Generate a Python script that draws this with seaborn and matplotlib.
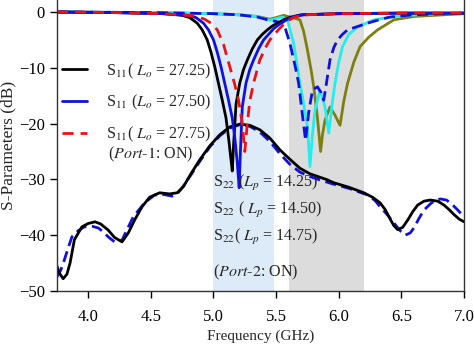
import numpy as np
import pandas as pd
import matplotlib
matplotlib.use("Agg")
import matplotlib.pyplot as plt
import seaborn as sns

# ---- data (frequency in GHz, level in dB) ----
f_s11_a = [3.75, 4.2, 4.6, 4.75, 4.81, 4.87, 4.91, 4.95, 4.98, 5.01, 5.04, 5.07, 5.1, 5.12, 5.14, 5.15,
           5.16, 5.18, 5.21, 5.24, 5.27, 5.31, 5.35, 5.39, 5.43, 5.47, 5.51, 5.56, 5.62, 5.7, 6.0, 6.5, 7.0]
s11_a = [0, -0.1, -0.3, -0.6, -1.0, -2.0, -3.2, -5.0, -7.2, -9.8, -12.8, -15.8, -19.0, -22.5, -26.5, -28.5,
         -24, -16.5, -12.7, -10.3, -8.6, -6.6, -5.0, -4.0, -3.2, -2.5, -2.0, -1.4, -0.9, -0.5, -0.3, -0.2, -0.2]

f_s11_b = [3.75, 4.2, 4.6, 4.8, 4.86, 4.92, 4.96, 5.0, 5.03, 5.06, 5.09, 5.12, 5.15, 5.17, 5.19, 5.205,
           5.215, 5.23, 5.26, 5.29, 5.32, 5.36, 5.4, 5.44, 5.48, 5.52, 5.56, 5.6, 5.65, 5.72, 6.0, 6.5, 7.0]
s11_b = [0, -0.1, -0.3, -0.6, -1.0, -2.0, -3.2, -5.0, -7.2, -9.8, -12.8, -15.8, -19.0, -22.5, -27, -31.5,
         -25, -17, -12.7, -10.3, -8.6, -6.6, -5.0, -4.0, -3.0, -2.3, -1.7, -1.2, -0.8, -0.5, -0.3, -0.2, -0.2]

f_s11_c = [3.75, 4.2, 4.6, 4.85, 4.93, 4.98, 5.03, 5.08, 5.13, 5.17, 5.2, 5.23, 5.25, 5.27, 5.29, 5.32,
           5.37, 5.41, 5.45, 5.49, 5.53, 5.59, 5.65, 5.75, 6.0, 6.5, 7.0]
s11_c = [0, -0.1, -0.3, -0.7, -1.3, -2.0, -3.2, -5.8, -9.8, -13, -15.8, -20, -25, -20, -16, -12.7,
         -8.6, -6.6, -5.0, -3.9, -2.9, -1.6, -0.9, -0.5, -0.3, -0.2, -0.2]

f_s22_a = [3.75, 4.5, 5.0, 5.2, 5.35, 5.45, 5.5, 5.56, 5.61, 5.65, 5.68, 5.71, 5.735, 5.76, 5.79, 5.83,
           5.86, 5.88, 5.9, 5.93, 5.96, 5.99, 6.03, 6.07, 6.15, 6.23, 6.32, 6.41, 6.6, 7.0]
s22_a = [0, -0.1, -0.3, -0.5, -0.9, -1.5, -1.7, -2.0, -5.6, -9.5, -12.8, -18.5, -23, -18, -14, -13.4,
         -14.5, -15.8, -13, -8.6, -6.4, -5.0, -4.0, -3.2, -2.6, -2.0, -1.4, -0.9, -0.5, -0.2]

f_s22_b = [3.75, 4.5, 5.0, 5.2, 5.35, 5.45, 5.5, 5.55, 5.59, 5.64, 5.69, 5.72, 5.75, 5.77, 5.79, 5.81,
           5.85, 5.87, 5.89, 5.92, 5.95, 5.97, 6.0, 6.03, 6.08, 6.15, 6.28, 6.45, 6.7, 7.0]
s22_b = [0, -0.1, -0.3, -0.5, -0.8, -1.5, -1.2, -0.9, -1.4, -5.6, -12.8, -16.5, -20.5, -27.7, -22, -17.6,
         -14, -15.5, -17, -21.7, -16, -12.8, -9, -6.2, -4, -2.7, -1.4, -0.8, -0.4, -0.2]

f_s22_c = [3.75, 4.5, 5.0, 5.2, 5.35, 5.45, 5.5, 5.56, 5.61, 5.66, 5.69, 5.72, 5.75, 5.78, 5.8, 5.83,
           5.855, 5.87, 5.89, 5.93, 5.97, 6.01, 6.04, 6.07, 6.12, 6.17, 6.24, 6.31, 6.44, 6.6, 7.0]
s22_c = [0, -0.1, -0.3, -0.5, -0.8, -1.3, -1.0, -0.6, -0.9, -1.2, -1.4, -3.5, -6.8, -10.5, -13.4, -19,
         -25, -22, -19.4, -17, -18.5, -20.3, -16, -12.8, -9, -6.2, -4.5, -3.2, -1.4, -0.8, -0.3]

f_low_k = [3.75, 3.77, 3.8, 3.83, 3.855, 3.89, 3.95, 4.0, 4.055, 4.1, 4.16, 4.21, 4.27, 4.32, 4.37, 4.43,
           4.49, 4.57, 4.65, 4.71, 4.76, 4.82, 4.89, 4.97, 5.05, 5.13, 5.21, 5.29, 5.37, 5.45, 5.53, 5.61,
           5.69, 5.77, 5.9, 5.96, 6.08, 6.2, 6.27, 6.33, 6.37, 6.41, 6.44, 6.47, 6.51, 6.55, 6.59, 6.63,
           6.68, 6.73, 6.79, 6.84, 6.88, 6.92, 6.96, 7.0]
low_k = [-45.5, -46.8, -47.8, -47.0, -45.0, -40.8, -38.5, -37.9, -37.6, -38.0, -39.1, -40.4, -41.2, -39.6,
         -37.3, -34.9, -33.2, -32.4, -32.6, -32.4, -31.3, -29.0, -26.5, -24.0, -22.0, -20.6, -20.1, -20.3,
         -21.1, -22.6, -24.7, -26.4, -28.0, -29.0, -30.0, -30.6, -31.4, -32.4, -33.2, -34.2, -35.4, -37.1,
         -38.3, -39.0, -38.6, -37.3, -35.8, -34.6, -33.9, -33.7, -33.9, -34.6, -35.4, -36.3, -37.1, -37.6]

f_low_b = [3.75, 3.78, 3.81, 3.84, 3.87, 3.92, 3.97, 4.03, 4.08, 4.12, 4.16, 4.21, 4.27, 4.31, 4.36, 4.45,
           4.53, 4.6, 4.67, 4.71, 4.75, 4.82, 4.89, 4.97, 5.05, 5.13, 5.21, 5.29, 5.37, 5.45, 5.53, 5.61,
           5.69, 5.77, 5.85, 5.95, 6.08, 6.23, 6.29, 6.33, 6.39, 6.44, 6.49, 6.53, 6.57, 6.6, 6.64, 6.68,
           6.74, 6.81, 6.86, 6.91, 6.95, 7.0]
low_b = [-47.5, -46.3, -44.4, -42.3, -40.3, -39.2, -38.5, -38.4, -38.7, -39.4, -40.3, -41.2, -40.9, -39.0,
         -36.7, -34.2, -32.8, -32.7, -33.0, -32.6, -31.5, -29.2, -26.8, -24.2, -22.2, -20.8, -20.2, -20.5,
         -21.5, -23.2, -25.4, -27.3, -28.7, -29.5, -30.1, -30.8, -31.6, -32.8, -33.8, -34.9, -36.4, -37.8,
         -39.2, -40.0, -39.6, -38.7, -37.0, -35.5, -34.2, -33.5, -33.7, -34.6, -35.5, -36.7]

s11_labels = [r"S$_{11}$( $L_o$ = 27.25)", r"S$_{11}$ ($L_o$ = 27.50)", r"S$_{11}$( $L_o$ = 27.75)"]
s22_labels = [r"S$_{22}$ ($L_p$ = 14.25)", r"S$_{22}$ ( $L_p$ = 14.50)", r"S$_{22}$( $L_p$ = 14.75)"]

# ---- style ----
sns.set_theme(style="ticks")
plt.rcParams["font.family"] = ["Liberation Serif", "DejaVu Serif"]
plt.rcParams["mathtext.fontset"] = "stix"

fig = plt.figure(figsize=(4.74, 3.56), dpi=100)
ax = fig.add_axes([0.120, 0.1826, 0.859, 0.8174])

ax.axvspan(5.0, 5.48, color="#ddeaf8", lw=0, zorder=0)
ax.axvspan(5.6, 6.2, color="#dcdcdc", lw=0, zorder=0)

lw = 2.0
sns.lineplot(x=f_low_b, y=low_b, ax=ax, color="#1010e0", lw=lw, linestyle=(0, (4, 2)))
sns.lineplot(x=f_low_k, y=low_k, ax=ax, color="black", lw=lw)

sns.lineplot(x=f_s22_c, y=s22_c, ax=ax, color="#7f7f10", lw=lw)
sns.lineplot(x=f_s22_b, y=s22_b, ax=ax, color="#22eeee", lw=lw)
sns.lineplot(x=f_s22_a, y=s22_a, ax=ax, color="#1010e0", lw=lw, linestyle=(0, (4, 2)))

h1 = sns.lineplot(x=f_s11_a, y=s11_a, ax=ax, color="black", lw=lw).lines[-1]
h2 = sns.lineplot(x=f_s11_b, y=s11_b, ax=ax, color="#1010e0", lw=lw).lines[-1]
h3 = sns.lineplot(x=f_s11_c, y=s11_c, ax=ax, color="#ee1111", lw=lw, linestyle=(0, (4, 2.5))).lines[-1]

leg = ax.legend([h1, h2, h3], s11_labels, loc="upper left", bbox_to_anchor=(0.0, 0.808),
                frameon=False, fontsize=11.5, handlelength=1.55, handletextpad=1.2,
                labelspacing=0.78, borderaxespad=0.0, borderpad=0.35)
ax.text(4.155, -25.6, r"($\mathit{Port}$-$\mathit{1}$: ON)", fontsize=11.5, va="center", ha="left")

ys = [-30.6, -35.5, -40.3]
for lab, yv in zip(s22_labels, ys):
    ax.text(4.998, yv, lab, fontsize=11.5, va="center", ha="left")
ax.text(5.0, -46.6, r"($\mathit{Port}$-$\mathit{2}$: ON)", fontsize=11.5, va="center", ha="left")

ax.set_xlim(3.75, 7.0)
ax.set_ylim(-50, 2.15)
ax.set_xticks([4.0, 4.5, 5.0, 5.5, 6.0, 6.5, 7.0])
ax.set_yticks([-50, -40, -30, -20, -10, 0])
ax.set_xlabel("Frequency (GHz)", fontsize=11, labelpad=3)
ax.set_ylabel("S-Parameters (dB)", fontsize=12.5, labelpad=2)
ax.tick_params(direction="out", length=5, width=1, labelsize=12, colors="black")
ax.tick_params(axis="x", pad=8)
ax.spines["top"].set_visible(False)
for s in ["left", "right", "bottom"]:
    ax.spines[s].set_color("#333333")
    ax.spines[s].set_linewidth(1.0)

fig.savefig("out.png", dpi=100)
